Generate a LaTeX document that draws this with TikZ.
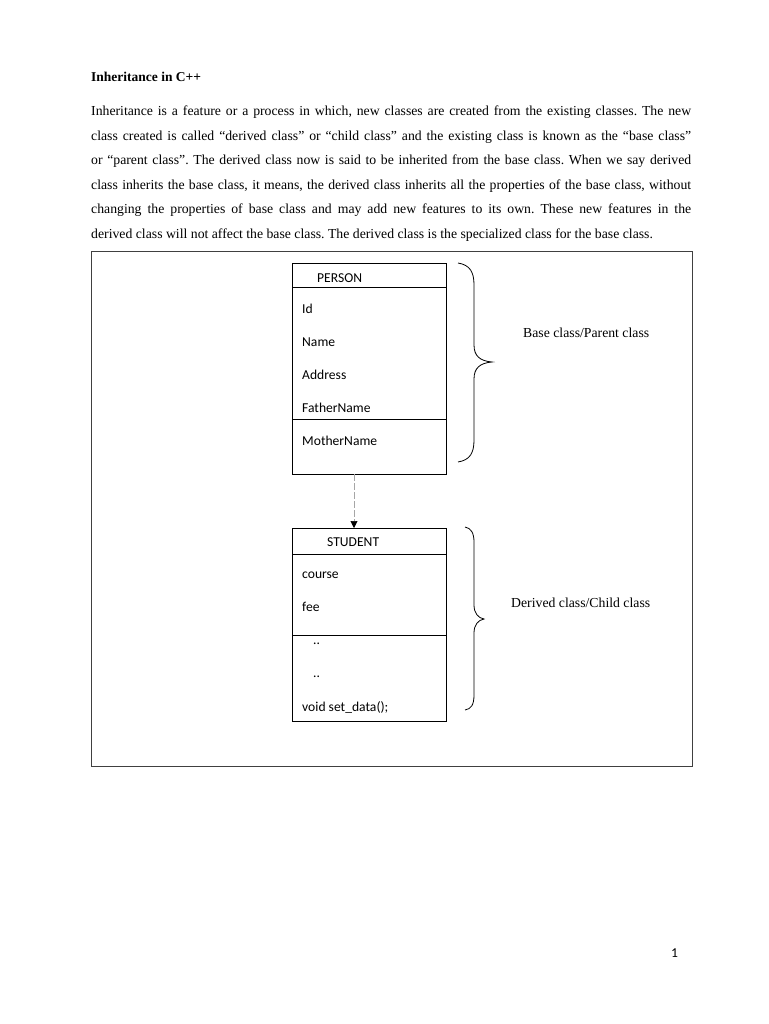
\documentclass[tikz,border=0pt]{standalone}
\usepackage{fontspec}
\setmainfont{Liberation Serif}
\newfontfamily\carl{Carlito}
\usetikzlibrary{arrows.meta}
\frenchspacing
\begin{document}
\begin{tikzpicture}[x=1pt,y=-1pt,
  txt/.style={inner sep=0pt, anchor=base west, font=\fontsize{13.75}{16}\selectfont},
  ttl/.style={inner sep=0pt, anchor=base west, font=\fontsize{13.5}{16}\selectfont\bfseries},
  cls/.style={inner sep=0pt, anchor=base west, font=\carl\fontsize{13.6}{16}\selectfont},
  box/.style={draw, line width=0.9pt, inner sep=0pt, anchor=north west, minimum width=154pt},
  divline/.style={line width=0.9pt},
  bracestyle/.style={line width=0.8pt},
  frame/.style={draw=black!75, line width=1.1pt}
]
\useasboundingbox[fill=white] (0,0) rectangle (768,1024);

% heading and paragraph
\node[ttl] (title) at (91,82) {Inheritance in C++};
\node[txt] (l1) at (91,116) {\makebox[600pt][s]{Inheritance is a feature or a process in which, new classes are created from the existing classes. The new}};
\node[txt] (l2) at (91,140.5) {\makebox[600pt][s]{class created is called “derived class” or “child class” and the existing class is known as the “base class”}};
\node[txt] (l3) at (91,165) {\makebox[600pt][s]{or “parent class”. The derived class now is said to be inherited from the base class. When we say derived}};
\node[txt] (l4) at (91,189.5) {\makebox[600pt][s]{class inherits the base class, it means, the derived class inherits all the properties of the base class, without}};
\node[txt] (l5) at (91,214) {\makebox[600pt][s]{changing the properties of base class and may add new features to its own. These new features in the}};
\node[txt] (l6) at (91,238.5) {derived class will not affect the base class. The derived class is the specialized class for the base class.};

% outer frame
\node[frame, inner sep=0pt, anchor=north west, minimum width=601pt, minimum height=515pt] (frm) at (91,251) {};

% PERSON class box
\node[box, minimum height=211pt] (person) at (292,263) {};
\draw[divline] ([yshift=-24pt]person.north west) -- ([yshift=-24pt]person.north east);
\draw[divline] ([yshift=-156pt]person.north west) -- ([yshift=-156pt]person.north east);
\node[cls] (pname) at (317,282) {PERSON};
\node[cls] (pid) at (302,313) {Id};
\node[cls] (pnm) at (302,346) {Name};
\node[cls] (padr) at (302,379) {Address};
\node[cls] (pfn) at (302,412) {FatherName};
\node[cls] (pmn) at (302,445) {MotherName};

% STUDENT class box
\node[box, minimum height=193pt] (student) at (292,528) {};
\draw[divline] ([yshift=-26pt]student.north west) -- ([yshift=-26pt]student.north east);
\draw[divline] ([yshift=-107pt]student.north west) -- ([yshift=-107pt]student.north east);
\node[cls] (sname) at (327,546) {STUDENT};
\node[cls] (scourse) at (302,578) {course};
\node[cls] (sfee) at (302,611) {fee};
\node[cls] (sd1) at (313,644) {..};
\node[cls] (sd2) at (313,677) {..};
\node[cls] (sset) at (302,711) {void set\_data();};

% inheritance arrow
\coordinate (a1) at (354,474);
\draw[draw=black!35, line width=0.6pt, dash pattern=on 7pt off 2pt, -{Triangle[length=7pt,width=7pt,color=black]}] (a1) -- (a1 |- student.north);

% braces
\draw[bracestyle] (458,263) .. controls (470,265) and (474,272) .. (474,285) -- (474,345)
  .. controls (474,356) and (480,361) .. (492,362)
  .. controls (480,363) and (474,368) .. (474,379) -- (474,440)
  .. controls (474,453) and (470,460) .. (458,462);
\draw[bracestyle] (465,527) .. controls (471,528) and (474,533) .. (474,542) -- (474,605)
  .. controls (474,613) and (478,618) .. (484,619)
  .. controls (478,620) and (474,625) .. (474,633) -- (474,695)
  .. controls (474,705) and (471,709) .. (465,710);

\node[txt] (base) at (523,337) {Base class/Parent class};
\node[txt] (derived) at (511,607) {Derived class/Child class};

% page number
\node[cls] (pg) at (671,957) {1};
\end{tikzpicture}
\end{document}
